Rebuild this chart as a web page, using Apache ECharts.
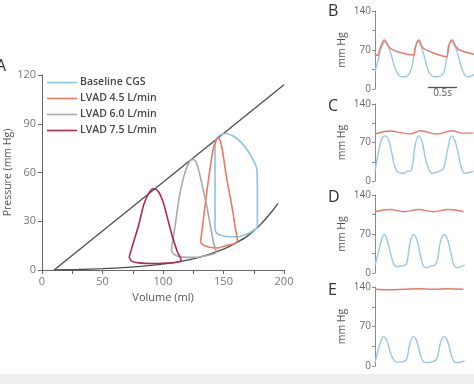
<!DOCTYPE html>
<html>
<head>
<meta charset="utf-8">
<script src="https://cdn.jsdelivr.net/npm/echarts@6/dist/echarts.min.js"></script>
<style>html,body{margin:0;padding:0;background:#fff;}#c{width:474px;height:384px;}</style>
</head>
<body>
<div id="c"></div>
<script>
// ---------- Panel A: pressure-volume loops (volume ml, pressure mm Hg) ----------
const loopNames = ['Baseline CGS', 'LVAD 4.5 L/min', 'LVAD 6.0 L/min', 'LVAD 7.5 L/min'];
const loopBaseline = [[143,25],[143,40],[143,60],[143,76],[144,80.5],[147,83],[152,84],[158,82.5],[164,79],[170,73.5],[175,67],[177.5,62],[178,50],[178,38],[178,27],[174,24],[169,22],[162,20.5],[154,20.5],[147,21.5],[144,23],[143,25]];
const loopLvad45 = [[131,17],[132,23],[133,29],[136,47],[139,63],[142,76],[144.5,80.5],[146,81],[148.5,76],[152.5,57],[157,39],[159.5,27],[161.5,18],[158,16],[152,15],[145,13.5],[138,14],[133,15.5],[131,17]];
const loopLvad60 = [[107,12],[108,18],[110,27],[113,43],[117,57],[121,65.5],[124,68],[127,67],[130,60],[133,50],[136,40],[139,28],[142,16],[144,11],[140,9.5],[130,8],[120,7.8],[112,8.5],[108,10.5],[107,12]];
const loopLvad75 = [[72,8],[74,13],[76,18],[80,28],[84,40],[88,47],[92,50],[96,48.5],[100,42],[104,31],[108,20],[112,11],[115,6],[112,4.8],[100,4.2],[90,4],[80,4.4],[74,5.5],[72,8]];
const espvr = [[10,0],[200,114]];
const edpvr = [[10,0],[30,0.3],[50,0.8],[70,1.6],[90,2.8],[110,4.7],[130,7.8],[150,12.8],[160,16.5],[170,21],[180,27.5],[190,36],[195,41]];
const volumeTicks = [0,50,100,150,200];
const pressureTicks = [0,30,60,90,120];

// ---------- Panels B-E: pressure waveforms (time s, mm Hg) ----------
const panelLetters = ['B','C','D','E'];
const lvB = [[0,31],[0.05,50],[0.10,72],[0.15,83],[0.17,85],[0.20,83],[0.24,73],[0.29,57],[0.34,38],[0.40,26],[0.45,22],[0.52,22],[0.57,25],[0.60,30],[0.64,42],[0.68,68],[0.72,82],[0.74,85],[0.77,82],[0.81,71],[0.86,53],[0.91,34],[0.97,24],[1.02,22],[1.09,22.5],[1.16,26],[1.19,32],[1.22,48],[1.27,74],[1.29,83],[1.32,85],[1.34,82],[1.40,70],[1.45,52],[1.50,34],[1.55,24],[1.60,22],[1.66,23],[1.71,27]];
const aoB = [[0,63],[0.04,60],[0.09,74],[0.14,86],[0.16,88],[0.19,84],[0.23,77],[0.29,71],[0.45,65],[0.66,61],[0.69,74],[0.73,86],[0.75,88],[0.78,84],[0.80,77],[0.86,71],[1.10,61],[1.23,58],[1.26,76],[1.30,86],[1.32,88],[1.35,84],[1.39,76],[1.45,70],[1.71,62]];
const lvC = [[0,17],[0.06,53],[0.12,78],[0.17,82],[0.23,75],[0.29,50],[0.34,26],[0.40,16],[0.49,14],[0.57,18],[0.61,18],[0.65,32],[0.69,65],[0.75,82],[0.81,71],[0.86,44],[0.92,22],[0.98,14],[1.06,16],[1.15,20],[1.19,26],[1.25,59],[1.32,82],[1.38,71],[1.44,44],[1.49,22],[1.55,14],[1.64,16],[1.69,18]];
const aoC = [[0,85.5],[0.26,91],[0.49,87],[0.62,86],[0.78,91.5],[1.06,85.5],[1.32,91.5],[1.50,87],[1.69,87]];
const lvD = [[0,14],[0.06,38],[0.12,62],[0.16,69],[0.20,62],[0.26,38],[0.32,17],[0.37,11],[0.43,12.5],[0.52,14],[0.55,19],[0.60,53],[0.66,69],[0.72,59],[0.78,32],[0.83,13],[0.89,9.5],[0.98,13],[1.03,14],[1.07,23],[1.13,59],[1.19,69],[1.25,59],[1.31,32],[1.36,13],[1.42,9.5],[1.49,12.5],[1.54,14]];
const aoD = [[0,110],[0.26,114],[0.49,110],[0.75,114],[1.0,110],[1.26,114],[1.52,110]];
const lvE = [[0,5],[0.06,31],[0.12,49],[0.14,52],[0.20,46],[0.26,25],[0.32,11],[0.37,6.5],[0.46,7.6],[0.52,9],[0.55,14],[0.60,40],[0.66,52],[0.72,43],[0.78,19.5],[0.83,7.6],[0.89,6],[0.98,7.6],[1.03,9],[1.07,15],[1.13,43],[1.19,52],[1.25,43],[1.31,19.5],[1.36,7.6],[1.42,6],[1.49,7.6],[1.54,9]];
const aoE = [[0,136],[0.25,135],[0.5,136],[0.75,137],[1.0,136],[1.25,137],[1.52,136]];
const waveTicks = [0,70,140];
const scaleBar = {start: 0.91, length: 0.5, level: 4, label: '0.5s'};

const FONT = 'Open Sans';
const C_BLUE = '#8fc1e3', C_RED = '#ea7866', C_GRAY = '#a9a9a9', C_CRIMSON = '#b0294f', C_LINE = '#4d4d4d';
const W_BLUE = '#9ac6e6', W_RED = '#e77a69';

const chart = echarts.init(document.getElementById('c'), null, {renderer: 'canvas'});

const smallGrids = [
  {left: 375, top: 11, width: 99, height: 78},
  {left: 375, top: 104, width: 99, height: 77},
  {left: 375, top: 195, width: 99, height: 78},
  {left: 375, top: 287, width: 99, height: 79}
];
const letterTops = [3, 98, 189, 282];

const grids = [{left: 42, top: 75, width: 242, height: 195}].concat(smallGrids)
  .map(g => Object.assign({containLabel: false, outerBoundsMode: 'none'}, g));

const xAxes = [{
  gridIndex: 0, type: 'value', min: 0, max: 200, interval: 25,
  axisLine: {lineStyle: {color: '#666', width: 1}},
  axisTick: {length: 4, lineStyle: {color: '#666'}},
  axisLabel: {color: '#777', fontSize: 11, fontFamily: FONT, margin: 6,
    formatter: v => volumeTicks.includes(v) ? String(v) : ''},
  splitLine: {show: false},
  name: 'Volume (ml)', nameLocation: 'middle', nameGap: 22, nameMoveOverlap: false,
  nameTextStyle: {color: '#555', fontSize: 11, fontFamily: FONT}
}];
const yAxes = [{
  gridIndex: 0, type: 'value', min: 0, max: 120, interval: 30,
  axisLine: {show: true, lineStyle: {color: '#666', width: 1}},
  axisTick: {show: true, length: 4, lineStyle: {color: '#666'}},
  axisLabel: {color: '#777', fontSize: 11, fontFamily: FONT, margin: 6,
    formatter: v => pressureTicks.includes(v) ? String(v) : ''},
  splitLine: {show: false},
  name: 'Pressure (mm Hg)', nameLocation: 'middle', nameGap: 28, nameRotate: 90, nameMoveOverlap: false,
  nameTextStyle: {color: '#555', fontSize: 10.5, fontFamily: FONT}
}];
for (let i = 1; i <= 4; i++) {
  xAxes.push({gridIndex: i, type: 'value', min: 0, max: 1.7, show: false});
  yAxes.push({
    gridIndex: i, type: 'value', min: 0, max: 140, interval: 35,
    axisLine: {show: true, lineStyle: {color: '#8a8a8a', width: 1}},
    axisTick: {show: true, length: 3, lineStyle: {color: '#8a8a8a'}},
    axisLabel: {color: '#666', fontSize: 10, fontFamily: FONT, margin: 4,
      formatter: v => waveTicks.includes(v) ? String(v) : ''},
    splitLine: {show: false},
    name: 'mm Hg', nameLocation: 'middle', nameGap: 27, nameRotate: 90, nameMoveOverlap: false,
    nameTextStyle: {color: '#555', fontSize: 10.5, fontFamily: FONT}
  });
}

const loopSeries = (name, data, color) => ({
  name, type: 'line', xAxisIndex: 0, yAxisIndex: 0, data, smooth: 0.3,
  symbol: 'none', lineStyle: {color, width: 1.6}, itemStyle: {color}, z: 3
});
const waveSeries = (i, data, color, extra) => Object.assign({
  type: 'line', xAxisIndex: i, yAxisIndex: i, data, smooth: 0.4,
  symbol: 'none', lineStyle: {color, width: 1.4}, itemStyle: {color}
}, extra || {});

const series = [
  {type: 'line', xAxisIndex: 0, yAxisIndex: 0, data: espvr, symbol: 'none', lineStyle: {color: C_LINE, width: 1.3}, z: 2},
  {type: 'line', xAxisIndex: 0, yAxisIndex: 0, data: edpvr, smooth: 0.3, symbol: 'none', lineStyle: {color: C_LINE, width: 1.3}, z: 2},
  loopSeries(loopNames[0], loopBaseline, C_BLUE),
  loopSeries(loopNames[1], loopLvad45, C_RED),
  loopSeries(loopNames[2], loopLvad60, C_GRAY),
  loopSeries(loopNames[3], loopLvad75, C_CRIMSON),
  waveSeries(1, lvB, W_BLUE, {markLine: {
    silent: true, symbol: 'none', animation: false,
    lineStyle: {color: '#555', width: 1.3, type: 'solid'},
    label: {show: true, formatter: scaleBar.label, position: 'insideMiddleBottom', distance: 1, color: '#555', fontSize: 10, fontFamily: FONT},
    data: [[{coord: [scaleBar.start, scaleBar.level]}, {coord: [scaleBar.start + scaleBar.length, scaleBar.level]}]]
  }}),
  waveSeries(1, aoB, W_RED),
  waveSeries(2, lvC, W_BLUE),
  waveSeries(2, aoC, W_RED),
  waveSeries(3, lvD, W_BLUE),
  waveSeries(3, aoD, W_RED),
  waveSeries(4, lvE, W_BLUE),
  waveSeries(4, aoE, W_RED)
];

const graphics = [
  {type: 'rect', shape: {x: 0, y: 374, width: 474, height: 10}, style: {fill: '#eeeeee'}, z: -1},
  {type: 'text', left: -4, top: 58, style: {text: 'A', fontSize: 16, fill: '#333', fontFamily: FONT}}
];
panelLetters.forEach((l, i) => graphics.push({type: 'text', left: 328, top: letterTops[i], style: {text: l, fontSize: 16, fill: '#333', fontFamily: FONT}}));

chart.setOption({
  animation: false,
  backgroundColor: '#ffffff',
  grid: grids,
  xAxis: xAxes,
  yAxis: yAxes,
  legend: {
    data: loopNames, orient: 'vertical', left: 47, top: 77, padding: 0,
    icon: 'rect', itemWidth: 30, itemHeight: 1.6, itemGap: 5,
    textStyle: {color: '#444', fontSize: 10.5, fontFamily: FONT, fontWeight: 600, padding: [0, 0, 0, -2]},
    selectedMode: false
  },
  graphic: graphics,
  series
});
</script>
</body>
</html>
